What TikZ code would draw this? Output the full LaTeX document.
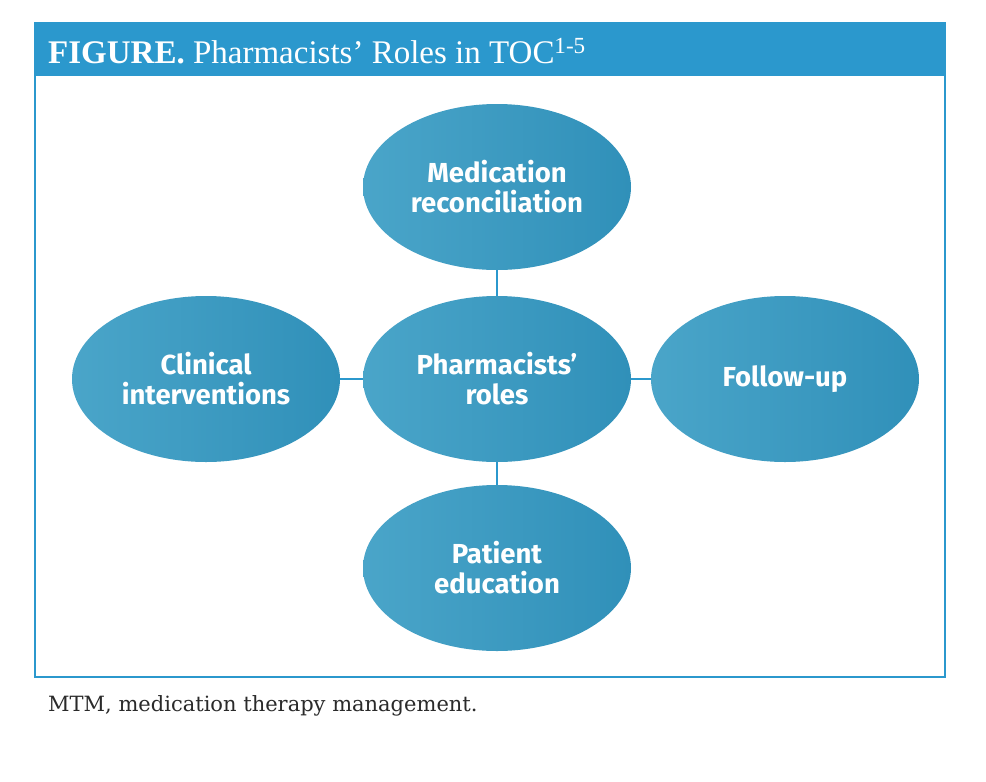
\documentclass[tikz,border=0pt]{standalone}
\usepackage{fontspec}
\setmainfont{Liberation Serif}
\newfontfamily\capfont{DejaVu Serif}
\newfontfamily\labelfont{Fira Sans}
\usetikzlibrary{shapes.geometric}
\definecolor{figblue}{HTML}{2B98CD}
\definecolor{bubA}{HTML}{4AA5C9}
\definecolor{bubB}{HTML}{3090B9}
\definecolor{captext}{HTML}{2A2A2A}
\tikzset{
  bubble/.style={ellipse, minimum width=268pt, minimum height=166pt, inner sep=0pt,
    left color=bubA, right color=bubB, text=white, align=center,
    font=\labelfont\bfseries\fontsize{27.5}{30}\selectfont},
  conn/.style={draw=figblue, line width=1.8pt}
}
\begin{document}
\begin{tikzpicture}[x=1pt,y=-1pt]
\useasboundingbox (0,0) rectangle (986,782);
\fill[white] (0,0) rectangle (986,782);
\fill[figblue] (35,23) rectangle (945,76);
\draw[figblue, line width=1.6pt] (35,23) rectangle (945,677);
\node[anchor=base west, text=white, inner sep=0pt, font=\fontsize{33}{38}\selectfont] (title) at (48,63) {\textbf{FIGURE.} Pharmacists’ Roles in TOC\textsuperscript{1-5}};
\node[bubble] (top) at (497,187) {Medication\\reconciliation};
\node[bubble] (center) at (497,379) {Pharmacists’\\roles};
\node[bubble] (left) at (206,379) {Clinical\\interventions};
\node[bubble] (right) at (785,379) {Follow-up};
\node[bubble] (bottom) at (497,568) {Patient\\education};
\draw[conn] (top.south) -- (center.north);
\draw[conn] (center.south) -- (bottom.north);
\draw[conn] (left.east) -- (center.west);
\draw[conn] (center.east) -- (right.west);
\node[anchor=base west, inner sep=0pt, text=captext, font=\capfont\fontsize{21}{25}\selectfont] (cap) at (48,711) {MTM, medication therapy management.};
\end{tikzpicture}
\end{document}
